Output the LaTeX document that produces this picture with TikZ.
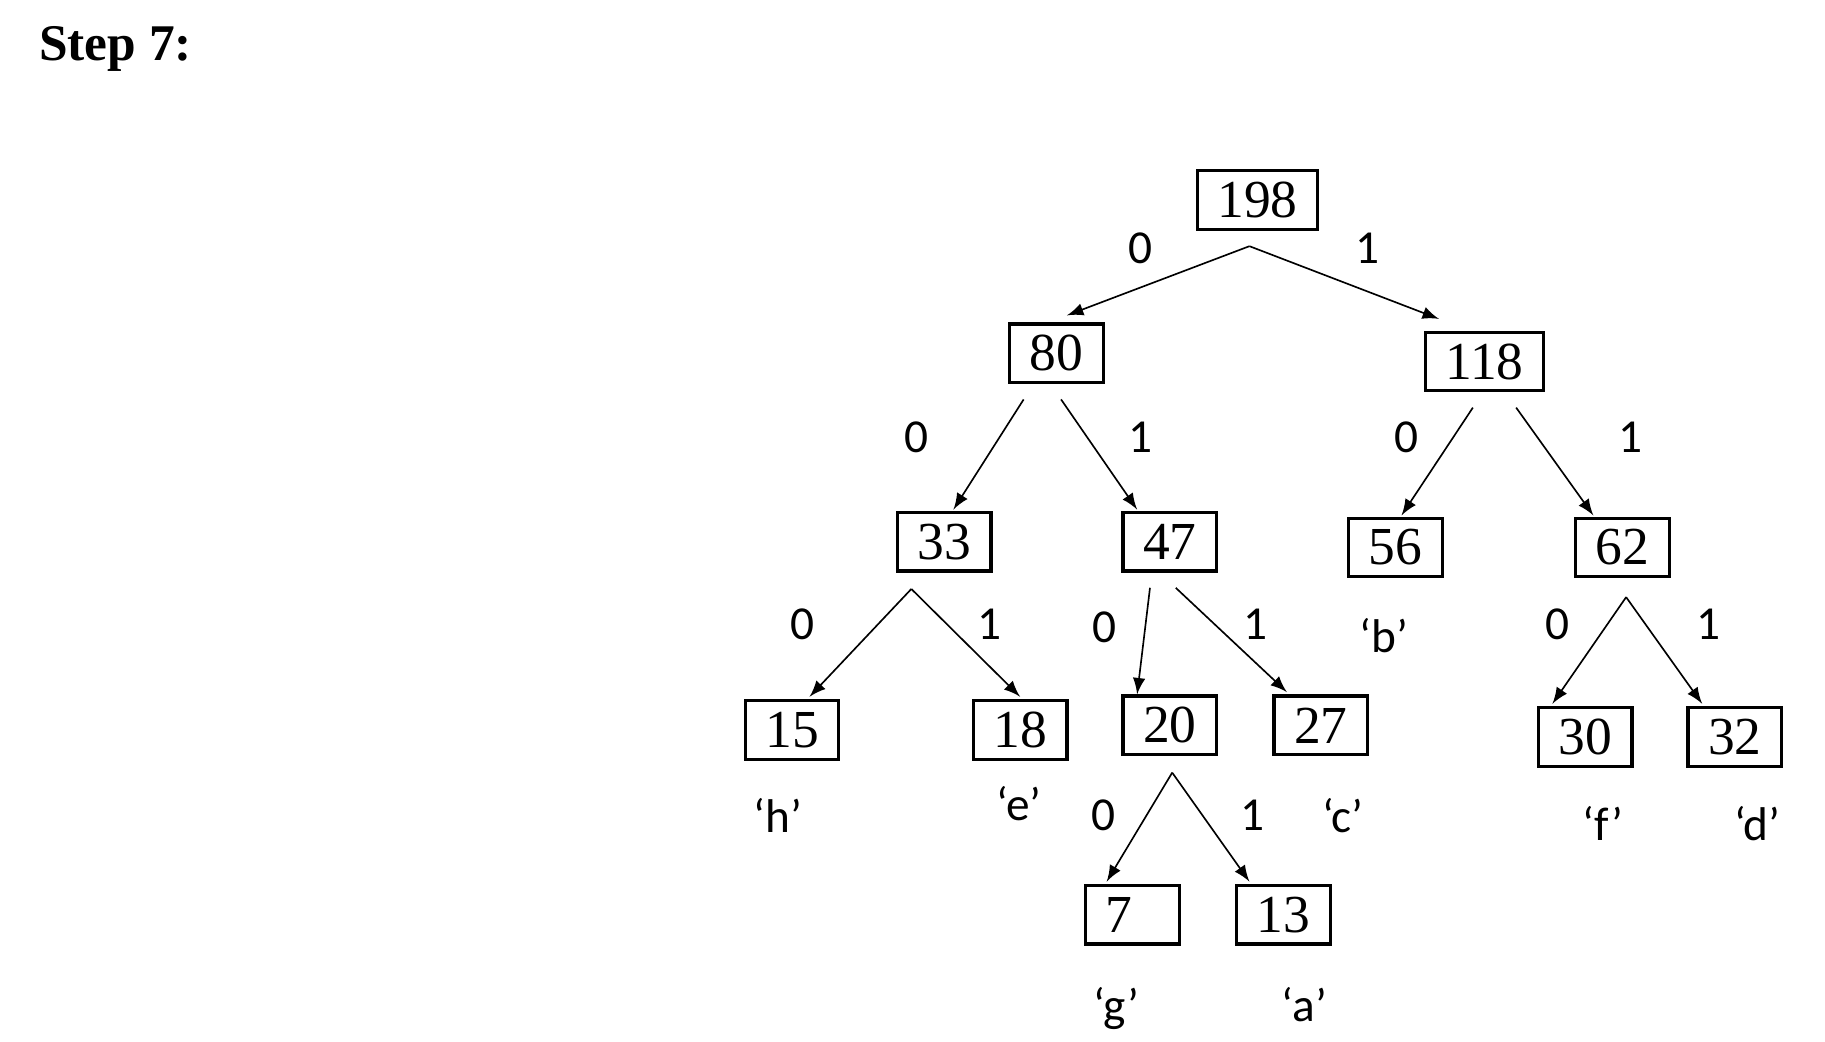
\documentclass[tikz,border=0pt]{standalone}
\usepackage{fontspec}
\setmainfont{Liberation Serif}
\newfontfamily\labelfont{Carlito}
\begin{document}
\begin{tikzpicture}[
        x=0.01cm, y=-0.01cm, >=latex,
        box/.style={draw, thick, minimum width=0.8cm, minimum height=0.5cm,
                    inner xsep=0.17cm, inner ysep=0pt, font=\fontsize{13}{15}\selectfont},
        bit/.style={font=\labelfont\fontsize{11.5}{13}\selectfont},
        sym/.style={font=\labelfont\fontsize{11.5}{13}\selectfont},
        edge/.style={->, thin},
    ]
    \useasboundingbox (0,0) rectangle (1560,890);
    \node[anchor=west, font=\bfseries\fontsize{12.5}{15}\selectfont] (title) at (21,42) {Step 7:};

    % tree nodes
    \node[box] (n198) at (1075,171) {198};
    \node[box] (n80) at (903,302) {80};
    \node[box] (n118) at (1269,309) {118};
    \node[box] (n33) at (807,463) {33};
    \node[box] (n47) at (1000,463) {47};
    \node[box] (n56) at (1193,468) {56};
    \node[box] (n62) at (1387,468) {62};
    \node[box] (n15) at (677,624) {15};
    \node[box] (n18) at (872,624) {18};
    \node[box] (n20) at (1000,620) {20};
    \node[box] (n27) at (1129,620) {27};
    \node[box] (n30) at (1355,630) {30};
    \node[box] (n32) at (1483,630) {32};
    \node[box, text width=0.46cm, align=left] (n7) at (968,782) {7};
    \node[box] (n13) at (1097,782) {13};

    % edges
    \draw[edge] ([shift={(-7,13)}]n198.south) -- ([shift={(9,-6)}]n80.north);
    \draw[edge] ([shift={(-7,13)}]n198.south) -- ([shift={(-39,-10)}]n118.north);
    \draw[edge] ([shift={(-28,13)}]n80.south) -- ([shift={(8,-1)}]n33.north);
    \draw[edge] ([shift={(4,13)}]n80.south) -- ([shift={(-28,-1)}]n47.north);
    \draw[edge] ([shift={(-10,13)}]n118.south) -- ([shift={(5,-1)}]n56.north);
    \draw[edge] ([shift={(27,13)}]n118.south) -- ([shift={(-25,-1)}]n62.north);
    \draw[edge] ([shift={(-28,14)}]n33.south) -- ([shift={(15,-2)}]n15.north);
    \draw[edge] ([shift={(-28,14)}]n33.south) -- ([shift={(0,-2)}]n18.north);
    \draw[edge] ([shift={(-17,13)}]n47.south) -- ([shift={(-28,0)}]n20.north);
    \draw[edge] ([shift={(5,13)}]n47.south) -- ([shift={(-29,-2)}]n27.north);
    \draw[edge] ([shift={(3,16)}]n62.south) -- ([shift={(-28,-2)}]n30.north);
    \draw[edge] ([shift={(3,16)}]n62.south) -- ([shift={(-28,-2)}]n32.north);
    \draw[edge] ([shift={(2,14)}]n20.south) -- ([shift={(-22,-2)}]n7.north);
    \draw[edge] ([shift={(2,14)}]n20.south) -- ([shift={(-29,-2)}]n13.north);

    % bit labels
    \node[bit] (b1) at (975,212) {0};   \node[bit] (b2) at (1169,212) {1};
    \node[bit] (b3) at (783,374) {0};   \node[bit] (b4) at (975,374) {1};
    \node[bit] (b5) at (1202,374) {0};  \node[bit] (b6) at (1394,374) {1};
    \node[bit] (b7) at (686,534) {0};   \node[bit] (b8) at (846,534) {1};
    \node[bit] (b9) at (944,536) {0};   \node[bit] (b10) at (1073,534) {1};
    \node[bit] (b11) at (1331,534) {0}; \node[bit] (b12) at (1460,534) {1};
    \node[bit] (b13) at (943,697) {0};  \node[bit] (b14) at (1071,697) {1};

    % symbols
    \node[sym] (sb) at (1183,543) {‘b’};
    \node[sym] (sh) at (665,697) {‘h’};
    \node[sym] (se) at (871,687) {‘e’};
    \node[sym] (sc) at (1148,697) {‘c’};
    \node[sym] (sf) at (1370,704) {‘f’};
    \node[sym] (sd) at (1502,704) {‘d’};
    \node[sym] (sg) at (954,862) {‘g’};
    \node[sym] (sa) at (1115,859) {‘a’};
\end{tikzpicture}
\end{document}
